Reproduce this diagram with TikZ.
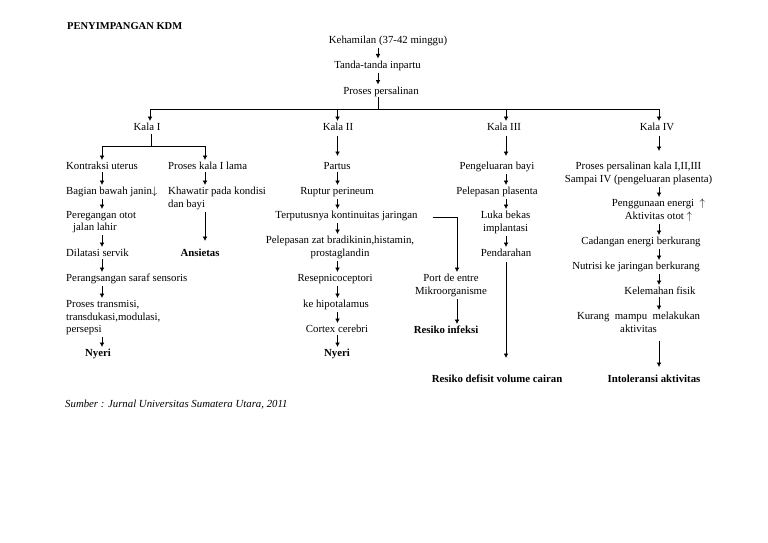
\documentclass[tikz,border=0pt]{standalone}
\usepackage{fontspec}
\setmainfont{Liberation Serif}
\usetikzlibrary{arrows.meta}
\begin{document}
\begin{tikzpicture}[x=1pt,y=-1pt,
  every node/.style={inner sep=0pt, font=\fontsize{10.8}{12.7}\selectfont},
  tx/.style={anchor=north, align=center},
  tl/.style={anchor=north west, align=left},
  hd/.style={anchor=north, font=\fontsize{10.8}{12.7}\selectfont\bfseries},
  arr/.style={-{Latex[length=4.5pt,width=4.8pt]}, line width=0.8pt, shorten <=2pt, shorten >=2pt},
  ln/.style={line width=0.8pt}]
\useasboundingbox (0,0) rectangle (768,543);

% title
\node[anchor=north west, font=\fontsize{10.5}{12}\selectfont\bfseries] (title) at (67,22) {PENYIMPANGAN KDM};

% top chain
\node[tx] (keh) at (388,35.5) {Kehamilan (37-42 minggu)};
\node[tx] (tanda) at (377.5,60.5) {Tanda-tanda inpartu};
\node[tx] (pros) at (381,86.5) {Proses persalinan};
\coordinate (xm) at (378,109);
\draw[arr] (keh.south -| xm) -- (tanda.north -| xm);
\draw[arr] (tanda.south -| xm) -- (pros.north -| xm);
\draw[ln] (pros.south -| xm) -- (xm);

% main bar
\coordinate (h1) at (150,109);
\coordinate (h2) at (337.5,109);
\coordinate (h3) at (506,109);
\coordinate (h4) at (659,109);
\draw[ln] (h1) -- (h4);

\node[tx] (k1) at (147,123) {Kala I};
\node[tx] (k2) at (338,123) {Kala II};
\node[tx] (k3) at (504,123) {Kala III};
\node[tx] (k4) at (657,123) {Kala IV};
\draw[arr, shorten <=0pt] (h1) -- (k1.north -| h1);
\draw[arr, shorten <=0pt] (h2) -- (k2.north -| h2);
\draw[arr, shorten <=0pt] (h3) -- (k3.north -| h3);
\draw[arr, shorten <=0pt] (h4) -- (k4.north -| h4);

% ---- Kala I ----
\coordinate (s1) at (151,146);
\coordinate (sa) at (102,146);
\coordinate (sb) at (205,146);
\draw[ln, shorten <=3pt] (k1.south -| s1) -- (s1);
\draw[ln] (sa) -- (sb);

\node[tl] (kon) at (66,162) {Kontraksi uterus};
\node[tl] (bag) at (66,187) {Bagian bawah janin$\downarrow$};
\node[tl] (per) at (66,211) {Peregangan otot\\\hspace*{7pt}jalan lahir};
\node[tl] (dil) at (66,249) {Dilatasi servik};
\node[tl] (prg) at (66,274) {Perangsangan saraf sensoris};
\node[tl] (ptr) at (66,300) {Proses transmisi,\\transdukasi,modulasi,\\persepsi};
\node[hd] (ny1) at (98,349) {Nyeri};

\node[tl] (pkl) at (168,162) {Proses kala I lama};
\node[tl] (kha) at (168,187) {Khawatir pada kondisi\\dan bayi};
\node[hd] (ans) at (200,249) {Ansietas};

\draw[arr, shorten <=0pt] (sa) -- (kon.north -| sa);
\draw[arr, shorten <=0pt] (sb) -- (pkl.north -| sb);
\draw[arr] (kon.south -| sa) -- (bag.north -| sa);
\draw[arr] (bag.south -| sa) -- (per.north -| sa);
\draw[arr] (per.south -| sa) -- (dil.north -| sa);
\draw[arr] (dil.south -| sa) -- (prg.north -| sa);
\draw[arr] (prg.south -| sa) -- (ptr.north -| sa);
\draw[arr] (ptr.south -| sa) -- (ny1.north -| sa);
\draw[arr] (pkl.south -| sb) -- (kha.north -| sb);
\draw[arr, shorten >=8pt] (kha.south -| sb) -- (ans.north -| sb);

% ---- Kala II ----
\node[tx] (par) at (337,162) {Partus};
\node[tx] (rup) at (337,187) {Ruptur perineum};
\node[tx] (ter) at (346.5,211) {Terputusnya kontinuitas jaringan};
\node[tx] (pel) at (340,236) {Pelepasan zat bradikinin,histamin,\\prostaglandin};
\node[tx] (res) at (335,274) {Resepnicoceptori};
\node[tx] (hip) at (336,300) {ke hipotalamus};
\node[tx] (cor) at (337,325) {Cortex cerebri};
\node[hd] (ny2) at (337,349) {Nyeri};

\draw[arr, shorten <=5pt, shorten >=6pt] (k2.south -| h2) -- (par.north -| h2);
\draw[arr] (par.south -| h2) -- (rup.north -| h2);
\draw[arr] (rup.south -| h2) -- (ter.north -| h2);
\draw[arr] (ter.south -| h2) -- (pel.north -| h2);
\draw[arr] (pel.south -| h2) -- (res.north -| h2);
\draw[arr] (res.south -| h2) -- (hip.north -| h2);
\draw[arr] (hip.south -| h2) -- (cor.north -| h2);
\draw[arr] (cor.south -| h2) -- (ny2.north -| h2);

% branch to infection
\coordinate (b1) at (457,217);
\node[tx] (port) at (451,274) {Port de entre\\Mikroorganisme};
\node[hd] (inf) at (446,326) {Resiko infeksi};
\draw[arr, shorten <=15pt] (ter.east |- b1) -- (b1) -- (port.north -| b1);
\draw[arr] (port.south -| b1) -- (inf.north -| b1);

% ---- Kala III ----
\node[tx] (peb) at (497,162) {Pengeluaran bayi};
\node[tx] (pps) at (497,187) {Pelepasan plasenta};
\node[tx] (luk) at (505.5,211) {Luka bekas\\implantasi};
\node[tx] (pen) at (506,249) {Pendarahan};
\node[hd] (rdv) at (497,375) {Resiko defisit volume cairan};

\draw[arr, shorten <=5pt, shorten >=6pt] (k3.south -| h3) -- (peb.north -| h3);
\draw[arr] (peb.south -| h3) -- (pps.north -| h3);
\draw[arr] (pps.south -| h3) -- (luk.north -| h3);
\draw[arr] (luk.south -| h3) -- (pen.north -| h3);
\draw[arr, line width=0.9pt, shorten <=5pt, shorten >=17pt] (pen.south -| h3) -- (rdv.north -| h3);

% ---- Kala IV ----
\node[tx] (pk4) at (638.5,162) {Proses persalinan kala I,II,III\\Sampai IV (pengeluaran plasenta)};
\node[tx] (pge) at (658.5,199) {Penggunaan energi \ $\uparrow$\\Aktivitas otot $\uparrow$};
\node[tx] (cad) at (641,237) {Cadangan energi berkurang};
\node[tx] (nut) at (636,262) {Nutrisi ke jaringan berkurang};
\node[tx] (kel) at (660,287) {Kelemahan fisik};
\node[tx] (kur) at (638.5,312) {Kurang\ \ mampu\ \ melakukan\\aktivitas};
\node[hd] (ita) at (654,375) {Intoleransi aktivitas};

\draw[arr, shorten <=5pt, shorten >=11pt] (k4.south -| h4) -- (pk4.north -| h4);
\draw[arr] (pk4.south -| h4) -- (pge.north -| h4);
\draw[arr] (pge.south -| h4) -- (cad.north -| h4);
\draw[arr] (cad.south -| h4) -- (nut.north -| h4);
\draw[arr] (nut.south -| h4) -- (kel.north -| h4);
\draw[arr] (kel.south -| h4) -- (kur.north -| h4);
\draw[arr, shorten <=8pt, shorten >=8pt] (kur.south -| h4) -- (ita.north -| h4);

% source
\node[anchor=north west, font=\fontsize{10.8}{12.7}\selectfont\itshape] (src) at (65,400) {Sumber : Jurnal Universitas Sumatera Utara, 2011};
\end{tikzpicture}
\end{document}
